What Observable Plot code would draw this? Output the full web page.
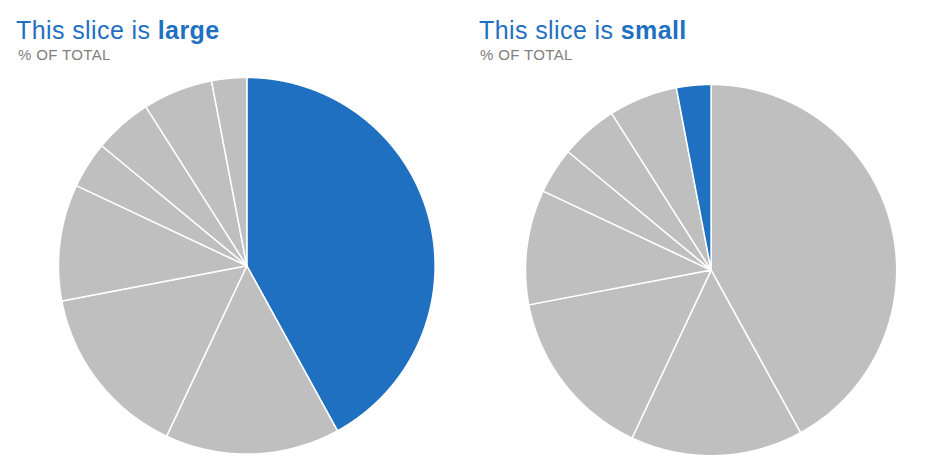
<!DOCTYPE html>
<html>
<head>
<meta charset="utf-8">
<script src="https://cdn.jsdelivr.net/npm/d3@7"></script>
<script src="https://cdn.jsdelivr.net/npm/@observablehq/plot@0.6"></script>
<style>
  html, body { margin: 0; padding: 0; background: #fff; }
  body { width: 933px; height: 471px; position: relative; overflow: hidden;
         font-family: "Liberation Sans", Arial, Helvetica, sans-serif; }
  .title { position: absolute; font-size: 25px; line-height: 25px; letter-spacing: 0.4px; color: #1f70c1; white-space: nowrap; }
  .title b { font-weight: bold; }
  .subtitle { position: absolute; font-size: 15px; line-height: 15px; letter-spacing: 0.35px; color: #808080; white-space: nowrap; }
  .pie { position: absolute; }
  .pie svg { display: block; }
</style>
</head>
<body>
<div class="title" style="left:16px; top:18px">This slice is <b>large</b></div>
<div class="subtitle" style="left:18px; top:47px">% OF TOTAL</div>
<div class="title" style="left:479px; top:18px">This slice is <b>small</b></div>
<div class="subtitle" style="left:480px; top:47px">% OF TOTAL</div>
<div class="pie" id="left"></div>
<div class="pie" id="right"></div>
<script>
// Segments of the whole, in clockwise order from 12 o'clock
const segments = ["A", "B", "C", "D", "E", "F", "G", "H"];
const shares = [42, 15, 15, 10, 4, 5, 6, 3]; // % of total

const blue = "#1f70c1";
const gray = "#bfbfbf";

// Build one planar polygon per slice (unit radius, y up), angles clockwise from top
function slices(highlight) {
  const arcs = d3.pie().sort(null).value(d => d.share)(
    segments.map((name, i) => ({name, share: shares[i]}))
  );
  const step = Math.PI / 720;
  return arcs.map((a) => {
    const ring = [[0, 0]];
    const n = Math.max(2, Math.ceil((a.endAngle - a.startAngle) / step));
    for (let k = 0; k <= n; ++k) {
      const t = a.startAngle + (a.endAngle - a.startAngle) * k / n;
      ring.push([Math.sin(t), Math.cos(t)]);
    }
    ring.push([0, 0]);
    return {
      type: "Feature",
      properties: {name: a.data.name, share: a.data.share, color: a.data.name === highlight ? blue : gray},
      geometry: {type: "Polygon", coordinates: [ring.reverse()]}
    };
  });
}

// Full disc used to fit the projection to the frame
const disc = {type: "Polygon", coordinates: [d3.range(0, 361, 1).map(deg => {
  const t = deg * Math.PI / 180; return [Math.sin(t), Math.cos(t)];
}).reverse()]};

function place(id, cx, cy, r, highlight) {
  const el = document.getElementById(id);
  const pad = 2;
  const size = 2 * r + 2 * pad;
  el.style.left = (cx - r - pad) + "px";
  el.style.top = (cy - r - pad) + "px";
  const chart = Plot.plot({
    width: size,
    height: size,
    margin: pad,
    projection: {type: "reflect-y", domain: disc},
    color: {type: "identity"},
    marks: [
      Plot.geo(slices(highlight), {
        fill: d => d.properties.color,
        stroke: "white",
        strokeWidth: 1.5,
        strokeLinejoin: "round",
        title: d => `${d.properties.name}: ${d.properties.share}%`
      })
    ]
  });
  el.appendChild(chart);
}

place("left", 246.3, 265.2, 188.3, "A");
place("right", 710.2, 269.6, 185.6, "H");
</script>
</body>
</html>
